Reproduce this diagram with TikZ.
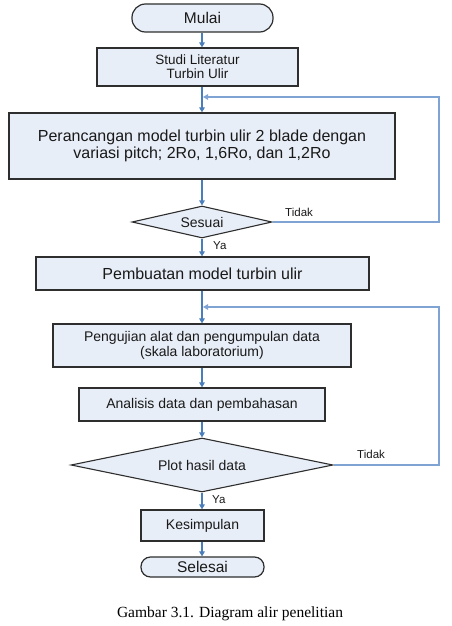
\documentclass[tikz,border=0pt]{standalone}
\usepackage{fontspec}
\setmainfont{Liberation Sans}
\newfontfamily\capfont{Liberation Serif}
\usetikzlibrary{shapes.geometric,arrows.meta}
\definecolor{boxfill}{HTML}{E8EEF7}
\definecolor{flowblue}{HTML}{4A7EBB}
\definecolor{loopblue}{HTML}{7FA3D3}
\definecolor{edge}{HTML}{2E2E2E}
\tikzset{
  x=1pt, y=-1pt,
  stepbox/.style={draw=edge, line width=1.2pt, fill=boxfill, inner sep=0pt, align=center, text=black!90},
  termbox/.style={stepbox},
  decbox/.style={draw=edge, line width=1.1pt, fill=boxfill, diamond, inner sep=0pt, align=center, text=black!90},
  flow/.style={draw=flowblue, line width=1.1pt, -{Triangle[width=5.5pt,length=5pt]}},
  loop/.style={draw=loopblue, line width=1.1pt, -{Triangle[width=5.5pt,length=5pt]}},
  lbl/.style={font=\fontsize{11.5}{13}\selectfont, text=black!90, inner sep=0pt, anchor=west}
}
\begin{document}
\begin{tikzpicture}
\useasboundingbox (0,0) rectangle (452,626);
\node[termbox, rounded corners=13.5pt, minimum width=141pt, minimum height=28pt, font=\fontsize{15.5}{17}\selectfont] (mulai) at (202.5,18) {Mulai};
\node[stepbox, minimum width=201pt, minimum height=38pt, font=\fontsize{13.5}{14}\selectfont] (studi) at (197.5,67) {Studi Literatur\\Turbin Ulir};
\node[stepbox, minimum width=386pt, minimum height=66pt, font=\fontsize{16}{16.5}\selectfont] (rancang) at (202,146) {Perancangan model turbin ulir 2 blade dengan\\variasi pitch; 2Ro, 1,6Ro, dan 1,2Ro};
\node[decbox, shape aspect=4.4, minimum width=140pt, minimum height=32pt, font=\fontsize{14}{15}\selectfont] (sesuai) at (202,222) {Sesuai};
\node[stepbox, minimum width=333pt, minimum height=33pt, font=\fontsize{16}{17}\selectfont] (buat) at (202.5,273.5) {Pembuatan model turbin ulir};
\node[stepbox, minimum width=298pt, minimum height=43pt, font=\fontsize{14}{14.5}\selectfont] (uji) at (202,345.5) {Pengujian alat dan pengumpulan data\\(skala laboratorium)};
\node[stepbox, minimum width=246pt, minimum height=33pt, font=\fontsize{14}{15}\selectfont] (analisis) at (202,404.5) {Analisis data dan pembahasan};
\node[decbox, shape aspect=4.85, minimum width=262pt, minimum height=54pt, font=\fontsize{14}{15}\selectfont] (plot) at (202,465) {Plot hasil data};
\node[stepbox, minimum width=123pt, minimum height=31pt, font=\fontsize{14}{15}\selectfont] (simpul) at (202.5,525.5) {Kesimpulan};
\node[termbox, rounded corners=9.5pt, minimum width=123pt, minimum height=20pt, font=\fontsize{15.5}{17}\selectfont] (selesai) at (202.5,567) {Selesai};
\node[font=\capfont\fontsize{15.5}{17}\selectfont, inner sep=0pt] (cap) at (230,614) {Gambar 3.1. Diagram alir penelitian};

\coordinate (c1) at (202,97);
\coordinate (c2) at (202,307);
\coordinate (r1) at (439,222);
\coordinate (r2) at (439,465);

\draw[flow] (mulai.south -| c1) -- (studi.north -| c1);
\draw[flow] (studi.south -| c1) -- (rancang.north -| c1);
\draw[flow] (rancang.south -| c1) -- (sesuai.north);
\draw[flow] (sesuai.south) -- (buat.north -| c1);
\draw[flow] (buat.south -| c1) -- (uji.north -| c1);
\draw[flow] (uji.south -| c1) -- (analisis.north -| c1);
\draw[flow] (analisis.south -| c1) -- (plot.north);
\draw[flow] (plot.south) -- (simpul.north -| c1);
\draw[flow] (simpul.south -| c1) -- (selesai.north -| c1);

\draw[loop] (sesuai.east) -- (r1) -- (r1 |- c1) -- ([xshift=1pt]c1);
\draw[loop] (plot.east) -- (r2) -- (r2 |- c2) -- ([xshift=1pt]c2);

\node[lbl] (tidak1) at (285,212) {Tidak};
\node[lbl] (ya1) at (213,246) {Ya};
\node[lbl] (tidak2) at (357,454) {Tidak};
\node[lbl] (ya2) at (212,500) {Ya};
\end{tikzpicture}
\end{document}
